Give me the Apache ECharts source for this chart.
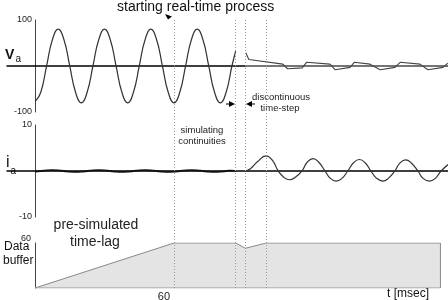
<!DOCTYPE html>
<html><head><meta charset="utf-8">
<script src="https://cdn.jsdelivr.net/npm/echarts@6/dist/echarts.min.js"></script>
<style>html,body{margin:0;padding:0;background:#fff}#c{width:448px;height:300px}</style>
</head><body><div id="c"></div>
<script>
// ---- data (time in ms) ----
const vaPre = [[0.3,-76],[2.5,-57],[5,0],[7.5,57],[10,80],[12.5,57],[15,0],[17.5,-57],[20,-80],[22.5,-57],[25,0],[27.5,57],[30,80],[32.5,57],[35,0],[37.5,-57],[40,-80],[42.5,-57],[45,0],[47.5,57],[50,80],[52.5,57],[55,0],[57.5,-57],[60,-80],[62.5,-57],[65,0],[67.5,57],[70,80],[72.5,57],[75,0],[77.5,-57],[80,-80],[82.5,-57],[85,0],[86.6,32]];
const vaPost = [[91.0,29],[91.4,27],[92.3,14],[107.0,4],[109.0,-6],[115.3,-4],[117.2,8],[127.3,4],[129.5,-8],[136.0,-3],[137.8,8],[144.6,4],[149.0,-8],[155.4,-3],[157.6,8],[166.2,4],[169.6,-8],[176.1,-3],[178.2,6]];
const vaZeroAfter = [[91.0,0],[178.27,0]];
const iaPre = [[0,-0.15],[2.5,0],[5,0.15],[7.5,0.2],[10,0.15],[12.5,0],[15,-0.15],[17.5,-0.2],[20,-0.15],[22.5,0],[25,0.15],[27.5,0.2],[30,0.15],[32.5,0],[35,-0.15],[37.5,-0.2],[40,-0.15],[42.5,0],[45,0.15],[47.5,0.2],[50,0.15],[52.5,0],[55,-0.15],[57.5,-0.2],[60,-0.15],[62.5,0],[65,0.15],[67.5,0.2],[70,0.15],[72.5,0],[75,-0.15],[77.5,-0.2],[80,-0.15],[82.5,0],[85,0.1],[86.6,0]];
const iaPost = [[90.8,0],[93,0.5],[96,2.0],[99.7,3.3],[102.5,2.3],[105,0],[107.5,-1.4],[109.8,-1.9],[112.5,-1.3],[115.2,0],[117.5,1.9],[120,2.7],[122.5,1.9],[125.2,0],[127.5,-1.6],[130,-2.2],[132.5,-1.6],[135,0],[137.5,1.8],[140,2.5],[142.5,1.8],[145,0],[147.5,-1.6],[150.2,-2.2],[152.5,-1.6],[155.3,0],[157.5,1.7],[160,2.4],[162.5,1.7],[165.3,0],[167.5,-1.6],[170.3,-2.2],[172.8,-1.6],[175.3,0],[178.3,1.4]];
const bufferData = [[0,0],[60,60],[86.6,60],[90.8,53],[99.8,60],[175,60],[175,0]];
const bufferBase = [[0,0],[175,0]];
const markerTimes = [60, 86.6, 90.8, 99.8];
const xTickLabels = [60];
const vaTicks = [-100, 100];
const iaTicks = [-10, 10];
const bufTicks = [60];

// ---- layout ----
const X_MIN = -12.09, X_MAX = 178.27;
const chart = echarts.init(document.getElementById('c'), null, {renderer:'canvas'});
const FONT = 'Liberation Sans, Arial, sans-serif';

function xAx(idx, opts) {
  return Object.assign({gridIndex: idx, type:'value', min:X_MIN, max:X_MAX,
    splitLine:{show:false}, axisTick:{show:false}, axisLabel:{show:false},
    axisLine:{show:true, onZero:true, lineStyle:{color:'#000', width:1.5}}}, opts||{});
}
function yHidden(idx, min, max) {
  return {gridIndex: idx, type:'value', min:min, max:max, show:false};
}
function yAx(idx, min, max, ticks, opts) {
  return Object.assign({gridIndex: idx, type:'value', min:min, max:max,
    splitLine:{show:false}, axisTick:{show:false},
    axisLine:{show:true, onZero:false, lineStyle:{color:'#444', width:1}},
    axisLabel:{customValues: ticks, fontSize:9, color:'#222', margin:3, fontFamily:FONT}}, opts||{});
}
const G = {left:7, right:0, containLabel:false, outerBoundsMode:'none'};
const GA = {left:35, right:0, containLabel:false, outerBoundsMode:'none'};
const option = {
  animation:false,
  backgroundColor:'#fff',
  grid:[
    Object.assign({top:20, height:92}, G),
    Object.assign({top:125, height:92}, G),
    Object.assign({top:243, height:45}, G),
    Object.assign({top:20, height:268}, G),
    Object.assign({top:20, height:92}, GA),
    Object.assign({top:125, height:92}, GA),
    Object.assign({top:243, height:45}, GA)
  ],
  xAxis:[
    xAx(0), xAx(1),
    xAx(2, {axisLine:{show:false, onZero:true},
      axisLabel:{show:true, customValues:xTickLabels, fontSize:11, color:'#222', margin:3, align:'right', padding:[0,4,0,0], fontFamily:FONT}}),
    xAx(3, {show:false}),
    {gridIndex:4, type:'value', min:0, max:1, show:false},
    {gridIndex:5, type:'value', min:0, max:1, show:false},
    {gridIndex:6, type:'value', min:0, max:1, show:false}
  ],
  yAxis:[
    yHidden(0, -100, 100),
    yHidden(1, -10, 10),
    yHidden(2, 0, 60),
    yHidden(3, 0, 1),
    yAx(4, -100, 100, vaTicks),
    yAx(5, -10, 10, iaTicks),
    yAx(6, 0, 60, bufTicks, {axisLabel:{customValues:bufTicks, fontSize:9, color:'#222', margin:4, verticalAlign:'bottom', fontFamily:FONT}})
  ],
  series:[
    {type:'line', xAxisIndex:3, yAxisIndex:3, data:[], symbol:'none', z:0,
      markLine:{silent:true, symbol:['none','none'], label:{show:false},
        lineStyle:{type:[1,2], color:'#999', width:1},
        data: markerTimes.map(t=>({xAxis:t}))}},
    {type:'line', xAxisIndex:2, yAxisIndex:2, data:bufferData, symbol:'none', z:2,
      lineStyle:{color:'#888', width:1}, areaStyle:{color:'#e4e4e4', opacity:1}},
    {type:'line', xAxisIndex:2, yAxisIndex:2, data:bufferBase, symbol:'none', z:3,
      lineStyle:{color:'#999', width:1}},
    {type:'line', xAxisIndex:0, yAxisIndex:0, data:vaZeroAfter, symbol:'none', z:3,
      lineStyle:{color:'#8a8a8a', width:1.6}},
    {type:'line', xAxisIndex:0, yAxisIndex:0, data:vaPre, symbol:'none', smooth:true, z:4,
      lineStyle:{color:'#333', width:1.2}},
    {type:'line', xAxisIndex:0, yAxisIndex:0, data:vaPost, symbol:'none', smooth:false, z:4,
      lineStyle:{color:'#444', width:1.1}},
    {type:'line', xAxisIndex:1, yAxisIndex:1, data:iaPre, symbol:'none', smooth:true, z:4,
      lineStyle:{color:'#111', width:1.8}},
    {type:'line', xAxisIndex:1, yAxisIndex:1, data:iaPost, symbol:'none', smooth:true, z:4,
      lineStyle:{color:'#333', width:1.2}}
  ],
  graphic:[
    {type:'text', left:117, top:0, style:{text:'starting real-time process', font:'14px '+FONT, fill:'#111'}},
    {type:'text', x:5, y:48, style:{text:'V', font:'bold 14px '+FONT, fill:'#111'}},
    {type:'text', x:15.5, y:54, style:{text:'a', font:'10px '+FONT, fill:'#111'}},
    {type:'text', x:6, y:155, style:{text:'i', font:'16px '+FONT, fill:'#111'}},
    {type:'text', x:10.5, y:166, style:{text:'a', font:'10px '+FONT, fill:'#111'}},
    {type:'text', x:252, y:92, style:{text:'discontinuous', font:'9.5px '+FONT, fill:'#222'}},
    {type:'text', x:280, y:103, style:{text:'time-step', font:'9.5px '+FONT, fill:'#222', align:'center'}},
    {type:'text', x:202, y:125, style:{text:'simulating', font:'9.5px '+FONT, fill:'#222', align:'center'}},
    {type:'text', x:202, y:136, style:{text:'continuities', font:'9.5px '+FONT, fill:'#222', align:'center'}},
    {type:'text', x:96, y:218, style:{text:'pre-simulated', font:'14px '+FONT, fill:'#222', align:'center'}},
    {type:'text', x:95, y:235, style:{text:'time-lag', font:'14px '+FONT, fill:'#222', align:'center'}},
    {type:'text', x:4, y:241, style:{text:'Data', font:'12px '+FONT, fill:'#111'}},
    {type:'text', x:3, y:255, style:{text:'buffer', font:'12px '+FONT, fill:'#111'}},
    {type:'text', x:387, y:288, style:{text:'t [msec]', font:'12px '+FONT, fill:'#111'}},
    {type:'polygon', shape:{points:[[165,14],[168,19.5],[172,16.5]]}, style:{fill:'#000'}},
    {type:'line', shape:{x1:226,y1:104,x2:230,y2:104}, style:{stroke:'#000', lineWidth:1}},
    {type:'polygon', shape:{points:[[229,101],[229,107],[235,104]]}, style:{fill:'#000'}},
    {type:'line', shape:{x1:251,y1:104,x2:255,y2:104}, style:{stroke:'#000', lineWidth:1}},
    {type:'polygon', shape:{points:[[252,101],[252,107],[246,104]]}, style:{fill:'#000'}}
  ]
};
chart.setOption(option);
</script></body></html>
